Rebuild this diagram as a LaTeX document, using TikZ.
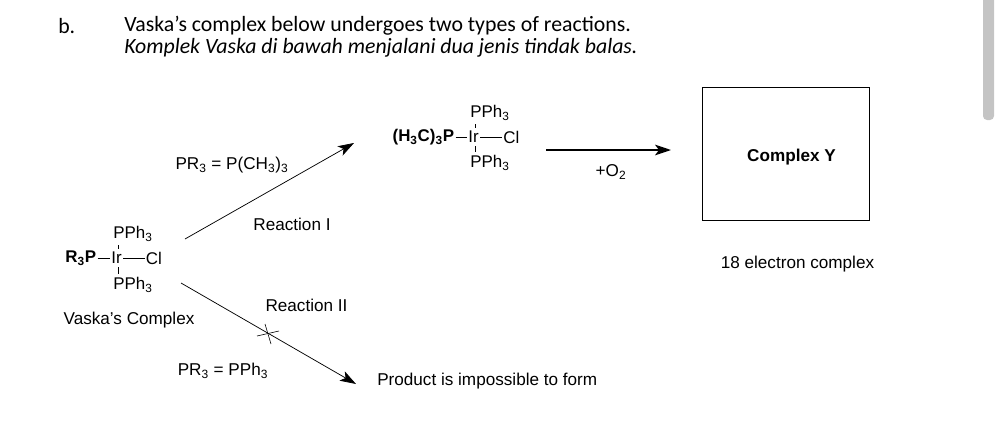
\documentclass[tikz,border=0pt]{standalone}
\usepackage{fontspec}
\setmainfont{Liberation Sans}
\newfontfamily\headfont{Carlito}
\usetikzlibrary{positioning}
\usetikzlibrary{arrows.meta}
\tikzset{
	chem/.style={inner sep=0.8pt, font=\fontsize{12.7}{14}\selectfont},
	lab/.style={inner sep=0pt, font=\fontsize{12.85}{15}\selectfont},
	head/.style={inner sep=0pt, anchor=west, font=\headfont\fontsize{16.35}{19}\selectfont},
	bond/.style={line width=0.5pt},
	stub/.style={line width=0.5pt, shorten >=1.5pt, shorten <=1.5pt},
	rxn/.style={line width=0.55pt, -{Stealth[length=12pt,width=8pt,inset=3pt]}},
	cross/.style={line width=0.45pt},
}
\begin{document}
\begin{tikzpicture}[x=0.75pt,y=-0.75pt]
		\useasboundingbox (0,0) rectangle (1008,443);
		
		\node[head] (b) at (58,26) {b.};
		\node[head] (line1) at (124,26) {Vaska’s complex below undergoes two types of reactions.};
		\node[head, font=\headfont\itshape\fontsize{16.35}{19}\selectfont] (line2) at (124,48) {Komplek Vaska di bawah menjalani dua jenis tindak balas.};
		
		\node[chem] (ir1) at (116.5,258) {Ir};
		\node[chem, anchor=east] (rp1) at (97.5,258) {\textbf{R\textsubscript{3}P}};
		\node[chem, anchor=west] (cl1) at (144.5,258) {Cl};
		\node[chem, anchor=west] (ptop1) at (112,234) {PPh\textsubscript{3}};
		\node[chem, anchor=west] (pbot1) at (112,285) {PPh\textsubscript{3}};
		\draw[bond] (rp1) -- (ir1);
		\draw[bond] (ir1) -- (cl1);
		\draw[stub] ([xshift=1pt]ir1.north) -- ([xshift=1pt]ir1.north |- ptop1.south);
		\draw[stub] ([xshift=1pt]ir1.south) -- ([xshift=1pt]ir1.south |- pbot1.north);
		\node[lab] (vaska) at (129,320) {Vaska's Complex};
		
		\node[chem] (ir2) at (473.5,137) {Ir};
		\node[chem, anchor=east] (rp2) at (455.5,137) {\textbf{(H\textsubscript{3}C)\textsubscript{3}P}};
		\node[chem, anchor=west] (cl2) at (502,137) {Cl};
		\node[chem, anchor=west] (ptop2) at (469,113) {PPh\textsubscript{3}};
		\node[chem, anchor=west] (pbot2) at (469,163) {PPh\textsubscript{3}};
		\draw[bond] (rp2) -- (ir2);
		\draw[bond] (ir2) -- (cl2);
		\draw[stub] ([xshift=1pt]ir2.north) -- ([xshift=1pt]ir2.north |- ptop2.south);
		\draw[stub] ([xshift=1pt]ir2.south) -- ([xshift=1pt]ir2.south |- pbot2.north);
		
		\coordinate (s1) at (185,239);
		\coordinate (e1) at (354,143);
		\coordinate (s2) at (181,283);
		\coordinate (e2) at (356,384);
		\coordinate (s3) at (546,150);
		\coordinate (e3) at (671,150);
		\draw[rxn] (s1) -- (e1);
		\draw[rxn] (s2) -- (e2);
		\draw[rxn, line width=1.1pt] (s3) -- (e3);
		
		\coordinate (xa) at (257,336);
		\coordinate (xb) at (279,331);
		\coordinate (xc) at (265,324);
		\coordinate (xd) at (271,344);
		\draw[cross] (xa) -- (xb);
		\draw[cross] (xc) -- (xd);
		
		\node[lab] (cond1) at (232,165) {PR\textsubscript{3} = P(CH\textsubscript{3})\textsubscript{3}};
		\node[lab] (rxn1) at (292,224) {Reaction I};
		\node[lab] (rxn2) at (306.5,305) {Reaction II};
		\node[lab] (cond2) at (223,371) {PR\textsubscript{3} = PPh\textsubscript{3}};
		\node[lab] (o2) at (611,172) {+O\textsubscript{2}};
		\node[lab, anchor=west] (prod) at (377,381) {Product is impossible to form};
		
		\node[draw, line width=0.6pt, minimum width=125.25pt, minimum height=99.75pt, inner sep=0pt] (boxY) at (785.5,153.5) {};
		\node[lab, font=\bfseries\fontsize{12.85}{15}\selectfont] (complexY) at (791.5,157) {Complex Y};
		\node[lab] (elec) at (797.5,264) {18 electron complex};
		
		\fill[black!23, rounded corners=3pt] (983,-8) rectangle (994,120);
		\end{tikzpicture}
\end{document}
